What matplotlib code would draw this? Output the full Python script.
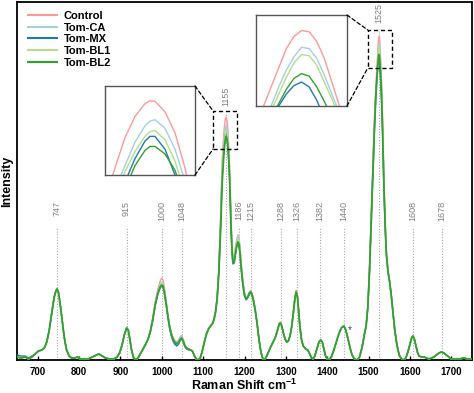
import matplotlib
matplotlib.use('Agg')
import matplotlib.pyplot as plt
from matplotlib.patches import Rectangle, ConnectionPatch
from matplotlib.lines import Line2D

plt.rcParams['font.family'] = ['Liberation Sans', 'DejaVu Sans']
plt.rcParams['mathtext.fontset'] = 'custom'
plt.rcParams['mathtext.rm'] = 'Liberation Sans'
plt.rcParams['mathtext.bf'] = 'Liberation Sans:bold'

# Raman shift (cm-1)
shift = [650, 660, 670, 678, 686, 694, 702, 710, 716, 722, 728, 734, 740, 744, 747, 750, 754, 758, 762, 766, 770, 776, 782, 790, 796, 802, 812, 822, 832, 842, 848, 856, 864, 874, 884, 892, 898,
         904, 910, 915, 919, 923, 927, 932, 938, 944, 952, 960, 966, 972, 978, 984, 990, 996, 1000, 1003, 1007, 1011, 1015, 1019, 1023, 1027, 1031, 1036, 1041, 1045, 1048, 1052, 1056, 1060, 1065, 1070, 1074, 1078, 1083, 1088, 1093, 1098,
         1103, 1108, 1113, 1118, 1122, 1126, 1130, 1134, 1138, 1142, 1146, 1148, 1150, 1152, 1154, 1155, 1156, 1158, 1160, 1162, 1164, 1166, 1168, 1170, 1172, 1175, 1178, 1181, 1184, 1186, 1189, 1192, 1196, 1200, 1204, 1208, 1212, 1215, 1218, 1222, 1226, 1230, 1234, 1238, 1242, 1246,
         1250, 1256, 1262, 1268, 1274, 1280, 1284, 1287, 1290, 1294, 1298, 1302, 1306, 1310, 1314, 1318, 1322, 1325, 1328, 1331, 1334, 1338, 1342, 1348, 1353, 1358, 1362, 1366, 1370, 1375, 1380, 1384, 1388, 1392, 1396, 1400, 1404, 1410, 1416, 1422, 1428, 1434, 1440, 1444, 1448, 1452, 1456, 1460, 1466, 1472, 1478, 1484, 1490, 1494, 1498,
         1502, 1506, 1510, 1514, 1517, 1519, 1520, 1521, 1522, 1523, 1524, 1525, 1526, 1527, 1528, 1529, 1530, 1532, 1534, 1537, 1540, 1543, 1547, 1551, 1555, 1559, 1563, 1567, 1571, 1575, 1580, 1585, 1590, 1595, 1600, 1604, 1607, 1610, 1614, 1618, 1622, 1628, 1634, 1640, 1646, 1652, 1658, 1664, 1670, 1676, 1682, 1688, 1694, 1700, 1710, 1720, 1730, 1740, 1750]

control = [3, 2, 3, 1, 3, 6, 9, 10, 12, 18, 30, 47, 63, 69, 71, 68, 57, 44, 30, 18, 10, 4, 2, 2, 3, 1, 1, 1, 3, 5, 6, 4, 2, 1, 1, 3, 7,
           15, 26, 32, 30, 20, 10, 2, 0, 3, 9, 15, 20, 29, 42, 58, 70, 79, 82, 80, 71, 58, 45, 35, 28, 23, 20, 18, 20, 23.5, 24.5, 21, 15, 12, 11, 10, 9, 5, 1, 0, 2, 9,
           18, 26, 31, 34, 36, 40, 48, 63, 92, 140, 200, 214, 227, 236, 241.5, 242.7, 242.5, 238, 229, 214, 193, 162, 134, 114, 102, 104, 112, 120, 125, 124, 114, 97, 79, 67, 62, 64, 68.5, 69.5, 67, 60, 50, 38, 24, 12, 4, 0,
           1, 6, 12, 17, 22, 30, 37, 38, 34, 27, 21, 18, 19, 24, 33, 48, 63, 70, 65, 49, 33, 20, 14, 11, 10, 6, 2, 1, 4, 11, 18, 20, 18, 11, 4, 1, 0, 3, 10, 18, 26, 32, 34, 31, 25, 18, 11, 5, 1, 0, 3, 12, 26, 34, 52,
           88, 138, 190, 240, 268, 284, 292, 300, 308, 316, 321, 323.5, 323, 319, 312, 302, 292, 268, 236, 180, 138, 108, 89, 78, 64, 47, 31, 19, 10, 4, 1, 0, 2, 8, 16, 22, 24, 22, 15, 8, 4, 3, 3, 2, 1, 2, 3, 5, 7, 8, 7, 5, 3, 1, 1, 1, 2, 1, 1]

tom_ca = [3, 2, 3, 1, 3, 6, 9, 10, 12, 18, 30, 47, 63, 69, 71, 68, 57, 44, 30, 18, 10, 4, 2, 2, 3, 1, 1, 1, 3, 5, 6, 4, 2, 1, 1, 3, 7,
          15, 26, 32, 30, 20, 10, 2, 0, 3, 9, 15, 20, 28, 41, 57, 68, 76, 78, 77, 68, 57, 44, 34, 27, 22, 19, 17, 19, 22.5, 23.5, 20, 14, 12, 11, 10, 9, 5, 1, 0, 2, 9,
          18, 26, 31, 34, 36, 40, 48, 63, 90, 136, 192, 205, 215, 225, 232, 234, 234.6, 231, 222, 208.5, 189, 160, 133, 113, 101, 103, 111, 119, 124, 123, 113, 96, 79, 67, 62, 64, 68, 69, 67, 60, 50, 38, 24, 12, 4, 0,
          1, 6, 12, 17, 22, 30, 36, 37, 34, 27, 21, 18, 19, 24, 33, 47, 62, 69, 64, 48, 33, 20, 14, 11, 10, 6, 2, 1, 4, 11, 18, 20, 18, 11, 4, 1, 0, 3, 10, 18, 26, 32, 34, 31, 25, 18, 11, 5, 1, 0, 3, 12, 26, 34, 52,
          88, 137, 188, 237, 265, 278, 284, 292, 300, 307, 312.5, 316.5, 316, 312, 305, 297, 289, 265, 233, 178, 137, 107, 88, 78, 64, 47, 31, 19, 10, 4, 1, 0, 2, 8, 16, 22, 24, 22, 15, 8, 4, 3, 3, 2, 1, 2, 3, 5, 7, 8, 7, 5, 3, 1, 1, 1, 2, 1, 1]

tom_mx = [5, 4, 4, 2, 4, 6, 9, 10, 12, 18, 30, 47, 63, 69, 71, 68, 57, 44, 30, 18, 10, 4, 2, 2, 3, 1, 1, 1, 3, 5, 6, 4, 2, 1, 1, 3, 7,
          15, 26, 32, 30, 20, 10, 2, 0, 3, 9, 15, 20, 27, 39, 54, 65, 72, 74, 73, 65, 54, 42, 31, 24, 19, 16, 14, 16, 20, 21, 18, 13, 11, 10, 10, 9, 5, 1, 0, 2, 9,
          18, 26, 31, 34, 36, 40, 48, 62, 88, 131, 183, 197, 208, 218, 225.5, 227.5, 227.5, 222, 211, 198, 180, 152, 126, 107, 96, 97, 105, 113, 117, 116, 107, 91, 75, 64, 60, 62, 66, 67, 65, 58, 49, 38, 24, 12, 4, 0,
          1, 6, 12, 17, 22, 30, 36, 37, 34, 27, 21, 18, 19, 24, 33, 47, 62, 68, 63, 48, 33, 20, 14, 11, 10, 6, 2, 1, 4, 11, 18, 20, 18, 11, 4, 1, 0, 3, 10, 18, 26, 32, 34, 31, 25, 18, 11, 5, 1, 0, 3, 12, 26, 34, 52,
          87, 134, 183, 228, 258, 274, 280, 286, 292, 297, 300.5, 302, 300, 294.5, 287, 280, 272, 252, 224, 172, 133, 105, 88, 78, 64, 47, 31, 19, 10, 4, 1, 0, 2, 8, 16, 22, 24, 22, 15, 8, 4, 3, 3, 2, 1, 2, 3, 5, 7, 8, 7, 5, 3, 1, 1, 1, 2, 1, 1]

tom_bl1 = [3, 2, 3, 1, 3, 6, 9, 10, 12, 18, 30, 47, 63, 69, 71, 68, 57, 44, 30, 18, 10, 4, 2, 2, 3, 1, 1, 1, 3, 5, 6, 4, 2, 1, 1, 3, 7,
           15, 26, 32, 30, 20, 10, 2, 0, 3, 9, 15, 20, 28, 41, 56, 67, 75, 77, 76, 67, 56, 44, 33, 26, 21, 18, 16, 18, 21.5, 22.5, 19, 14, 12, 11, 10, 9, 5, 1, 0, 2, 9,
           18, 26, 31, 34, 36, 40, 48, 62, 89, 134, 188, 201, 212.5, 221, 227.5, 229.5, 230, 226, 217, 203, 186, 157, 131, 111, 99, 100, 108, 116, 121, 120, 110, 94, 77, 66, 61, 63, 67, 68, 66, 59, 50, 38, 24, 12, 4, 0,
           1, 6, 12, 17, 22, 30, 36, 37, 34, 27, 21, 18, 19, 24, 33, 47, 62, 68, 63, 48, 33, 20, 14, 11, 10, 6, 2, 1, 4, 11, 18, 20, 18, 11, 4, 1, 0, 3, 10, 18, 26, 32, 34, 31, 25, 18, 11, 5, 1, 0, 3, 12, 26, 34, 52,
           87, 136, 187, 235, 264, 276, 282, 290, 297, 304, 310, 313.5, 313, 309, 302, 295, 287, 263, 232, 177, 136, 107, 88, 78, 64, 47, 31, 19, 10, 4, 1, 0, 2, 8, 16, 22, 24, 22, 15, 8, 4, 3, 3, 2, 1, 2, 3, 5, 7, 8, 7, 5, 3, 1, 1, 1, 2, 1, 1]

tom_bl2 = [3, 2, 3, 1, 3, 6, 9, 10, 12, 18, 30, 47, 63, 69, 71, 68, 57, 44, 30, 18, 10, 4, 2, 2, 3, 1, 1, 1, 3, 5, 6, 4, 2, 1, 1, 3, 7,
           15, 26, 32, 30, 20, 10, 2, 0, 3, 9, 15, 20, 28, 40, 55, 66, 73, 75, 74, 66, 55, 43, 33, 26, 21, 18, 16, 18, 21, 22, 19, 14, 12, 11, 10, 9, 5, 1, 0, 2, 9,
           18, 26, 31, 34, 36, 40, 48, 62, 88, 128, 177, 192, 205, 215, 221.5, 223.2, 223.2, 220, 213, 201, 181, 152, 127, 108, 97, 98, 106, 114, 118, 117, 108, 92, 76, 65, 61, 63, 67, 68, 66, 59, 50, 38, 24, 12, 4, 0,
           1, 6, 12, 17, 22, 30, 36, 37, 34, 27, 21, 18, 19, 24, 33, 47, 62, 68, 63, 48, 33, 20, 14, 11, 10, 6, 2, 1, 4, 11, 18, 20, 18, 11, 4, 1, 0, 3, 10, 18, 26, 32, 34, 31, 25, 18, 11, 5, 1, 0, 3, 12, 26, 34, 52,
           87, 135, 185, 230, 260, 276, 282, 288, 293, 299, 303.5, 305.5, 304.5, 300, 294, 287, 279, 256, 226, 175, 135, 106, 88, 78, 64, 47, 31, 19, 10, 4, 1, 0, 2, 8, 16, 22, 24, 22, 15, 8, 4, 3, 3, 2, 1, 2, 3, 5, 7, 8, 7, 5, 3, 1, 1, 1, 2, 1, 1]

names = ['Control', 'Tom-CA', 'Tom-MX', 'Tom-BL1', 'Tom-BL2']
colors = ['#fb9a99', '#a6cee3', '#1f78b4', '#b2df8a', '#33a02c']
peaks = [747, 915, 1000, 1048, 1155, 1186, 1215, 1288, 1326, 1382, 1440, 1525, 1608, 1678]

spectra = [control, tom_ca, tom_mx, tom_bl1, tom_bl2]

fig = plt.figure(figsize=(4.74, 3.93), dpi=100)
ax = fig.add_axes([17 / 474, 1 - 360 / 393, 455 / 474, 358 / 393])

for y, c, n in zip(spectra, colors, names):
    lw = 1.3 if n == 'Tom-BL2' else 1.0
    ax.plot(shift, y, color=c, lw=lw, zorder=3)

# peak markers
for p in peaks:
    if p == 1155:
        top = 273
    elif p == 1525:
        top = 357
    else:
        top = 159
    ax.plot([p, p], [0, top - 26], ls=(0, (1, 1.5)), color='#a8a8a8', lw=0.8, zorder=1)
    ax.text(p, top, str(p), rotation=90, ha='center', va='top', fontsize=6.5, color='#808080')
ax.text(1455, 30, '*', fontsize=7, color='#444444', ha='center', va='center')

ax.set_xlim(650, 1750)
ax.set_ylim(0, 358)
ax.set_yticks([])
ax.set_xticks(range(700, 1800, 100))
ax.tick_params(axis='x', direction='in', length=3, width=1, labelsize=7, pad=5)
for lab in ax.get_xticklabels():
    lab.set_fontweight('bold')
for s in ax.spines.values():
    s.set_linewidth(1.3)
ax.set_xlabel(r'Raman Shift cm$^{\mathbf{-1}}$', fontsize=9, fontweight='bold', labelpad=0.5)
ax.set_ylabel('Intensity', fontsize=9, fontweight='bold', labelpad=3)

# zoom insets
insets = [
    ([105 / 474, 1 - 175 / 393, 90 / 474, 89 / 393], (1146, 1164), (211, 249), (1124, 1183)),
    ([256 / 474, 1 - 106 / 393, 91 / 474, 91 / 393], (1519, 1531), (292, 330), (1498, 1556)),
]
for rect, xl, yl, bx in insets:
    axi = fig.add_axes(rect)
    for y, c in zip(spectra, colors):
        axi.plot(shift, y, color=c, lw=1.0)
    axi.set_xlim(*xl)
    axi.set_ylim(*yl)
    axi.set_xticks([])
    axi.set_yticks([])
    for s in axi.spines.values():
        s.set_color('#555555')
        s.set_linewidth(1.0)
    ax.add_patch(Rectangle((bx[0], yl[0]), bx[1] - bx[0], yl[1] - yl[0], fill=False,
                           ls=(0, (3, 2)), lw=1.0, ec='k', zorder=4))
    for ya, yb in [(1, yl[1]), (0, yl[0])]:
        con = ConnectionPatch(xyA=(1, ya), coordsA=axi.transAxes, xyB=(bx[0], yb), coordsB=ax.transData,
                              ls=(0, (3, 2)), lw=0.9, color='k')
        fig.add_artist(con)

handles = [Line2D([], [], color=c, lw=1.5) for c in colors]
ax.legend(handles, names, loc='upper left', bbox_to_anchor=(28 / 474, 1 - 11 / 393), bbox_transform=fig.transFigure,
          frameon=False, prop=dict(weight='bold', size=8), handlelength=2.6, handletextpad=0.6,
          labelspacing=0.15, borderpad=0, borderaxespad=0)

fig.savefig('out.png', dpi=100)
